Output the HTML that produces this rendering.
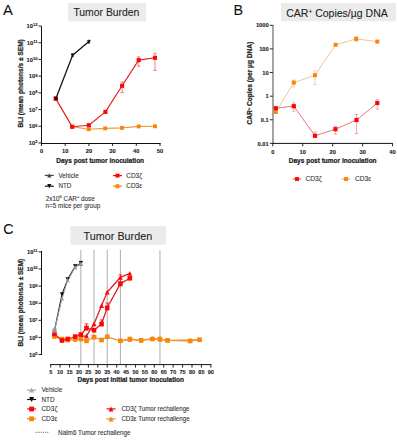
<!DOCTYPE html>
<html><head><meta charset="utf-8"><style>
html,body{margin:0;padding:0;background:#fff;width:397px;height:440px;overflow:hidden}
svg{display:block;font-family:"Liberation Sans", sans-serif}
text{stroke:#222;stroke-width:0.08px}
text[font-weight="700"]{stroke-width:0.22px}
text.tk{stroke-width:0.1px}
</style></head><body>
<svg width="397" height="440" viewBox="0 0 397 440">
<rect width="397" height="440" fill="#fff"/>
<text x="3.1" y="14.7" font-size="14.8" font-weight="400" text-anchor="start" fill="#111" >A</text>
<rect x="68" y="3" width="78" height="18.5" fill="#ebebeb"/>
<text x="106.4" y="16.4" font-size="10.4" font-weight="400" text-anchor="middle" fill="#222" >Tumor Burden</text>
<line x1="41.5" y1="26" x2="41.5" y2="143.5" stroke="#111" stroke-width="1"/>
<line x1="38.5" y1="143.0" x2="41.5" y2="143.0" stroke="#111" stroke-width="0.9"/>
<text x="37.5" y="145.1" font-size="5.8" font-weight="700" text-anchor="end" fill="#222" class="tk">10<tspan dy="-1.7" font-size="4.1">5</tspan></text>
<line x1="38.5" y1="126.28999999999999" x2="41.5" y2="126.28999999999999" stroke="#111" stroke-width="0.9"/>
<text x="37.5" y="128.39" font-size="5.8" font-weight="700" text-anchor="end" fill="#222" class="tk">10<tspan dy="-1.7" font-size="4.1">6</tspan></text>
<line x1="38.5" y1="109.58" x2="41.5" y2="109.58" stroke="#111" stroke-width="0.9"/>
<text x="37.5" y="111.67999999999999" font-size="5.8" font-weight="700" text-anchor="end" fill="#222" class="tk">10<tspan dy="-1.7" font-size="4.1">7</tspan></text>
<line x1="38.5" y1="92.87" x2="41.5" y2="92.87" stroke="#111" stroke-width="0.9"/>
<text x="37.5" y="94.97" font-size="5.8" font-weight="700" text-anchor="end" fill="#222" class="tk">10<tspan dy="-1.7" font-size="4.1">8</tspan></text>
<line x1="38.5" y1="76.16" x2="41.5" y2="76.16" stroke="#111" stroke-width="0.9"/>
<text x="37.5" y="78.25999999999999" font-size="5.8" font-weight="700" text-anchor="end" fill="#222" class="tk">10<tspan dy="-1.7" font-size="4.1">9</tspan></text>
<line x1="38.5" y1="59.44999999999999" x2="41.5" y2="59.44999999999999" stroke="#111" stroke-width="0.9"/>
<text x="37.5" y="61.54999999999999" font-size="5.8" font-weight="700" text-anchor="end" fill="#222" class="tk">10<tspan dy="-1.7" font-size="4.1">10</tspan></text>
<line x1="38.5" y1="42.739999999999995" x2="41.5" y2="42.739999999999995" stroke="#111" stroke-width="0.9"/>
<text x="37.5" y="44.839999999999996" font-size="5.8" font-weight="700" text-anchor="end" fill="#222" class="tk">10<tspan dy="-1.7" font-size="4.1">11</tspan></text>
<line x1="38.5" y1="26.03" x2="41.5" y2="26.03" stroke="#111" stroke-width="0.9"/>
<text x="37.5" y="28.130000000000003" font-size="5.8" font-weight="700" text-anchor="end" fill="#222" class="tk">10<tspan dy="-1.7" font-size="4.1">12</tspan></text>
<line x1="41.0" y1="143.5" x2="160.5" y2="143.5" stroke="#111" stroke-width="1"/>
<line x1="41.5" y1="143" x2="41.5" y2="146" stroke="#111" stroke-width="0.9"/>
<text x="41.5" y="153.2" font-size="5.8" font-weight="700" text-anchor="middle" fill="#222" class="tk">0</text>
<line x1="65.2" y1="143" x2="65.2" y2="146" stroke="#111" stroke-width="0.9"/>
<text x="65.2" y="153.2" font-size="5.8" font-weight="700" text-anchor="middle" fill="#222" class="tk">10</text>
<line x1="88.9" y1="143" x2="88.9" y2="146" stroke="#111" stroke-width="0.9"/>
<text x="88.9" y="153.2" font-size="5.8" font-weight="700" text-anchor="middle" fill="#222" class="tk">20</text>
<line x1="112.60000000000001" y1="143" x2="112.60000000000001" y2="146" stroke="#111" stroke-width="0.9"/>
<text x="112.60000000000001" y="153.2" font-size="5.8" font-weight="700" text-anchor="middle" fill="#222" class="tk">30</text>
<line x1="136.3" y1="143" x2="136.3" y2="146" stroke="#111" stroke-width="0.9"/>
<text x="136.3" y="153.2" font-size="5.8" font-weight="700" text-anchor="middle" fill="#222" class="tk">40</text>
<line x1="160.0" y1="143" x2="160.0" y2="146" stroke="#111" stroke-width="0.9"/>
<text x="160.0" y="153.2" font-size="5.8" font-weight="700" text-anchor="middle" fill="#222" class="tk">50</text>
<text x="100.2" y="163.0" font-size="6.5" font-weight="700" text-anchor="middle" fill="#222" >Days post tumor inoculation</text>
<text transform="translate(22.5 83.4) rotate(-90)" font-size="6.55" font-weight="700" text-anchor="middle" fill="#222">BLI (mean photons/s ± SEM)</text>
<polyline points="55.80,98.70 72.20,126.80 88.80,129.20 105.20,128.40 122.00,127.90 138.70,126.40 155.00,126.30" fill="none" stroke="#eb9a3c" stroke-width="1.1" stroke-linejoin="round"/>
<polyline points="55.80,98.70 72.20,126.80 88.80,125.20 105.40,111.90 122.10,85.80 138.70,60.10 155.00,57.80" fill="none" stroke="#e41e1e" stroke-width="1.15" stroke-linejoin="round"/>
<polyline points="55.80,98.70 72.60,55.20 88.90,41.60" fill="none" stroke="#111" stroke-width="1.25" stroke-linejoin="round"/>
<path d="M122.10 82.00V92.60M120.40 82.00H123.80M120.40 92.60H123.80" stroke="#e86464" stroke-width="0.8" fill="none"/>
<path d="M138.70 56.80V66.20M137.00 56.80H140.40M137.00 66.20H140.40" stroke="#e86464" stroke-width="0.8" fill="none"/>
<path d="M155.00 53.30V70.40M153.30 53.30H156.70M153.30 70.40H156.70" stroke="#e86464" stroke-width="0.8" fill="none"/>
<rect x="70.25" y="124.85" width="3.9" height="3.9" fill="#f8860a"/>
<rect x="86.85" y="127.25" width="3.9" height="3.9" fill="#f8860a"/>
<rect x="103.25" y="126.45" width="3.9" height="3.9" fill="#f8860a"/>
<rect x="120.05" y="125.95" width="3.9" height="3.9" fill="#f8860a"/>
<rect x="136.75" y="124.45" width="3.9" height="3.9" fill="#f8860a"/>
<rect x="153.05" y="124.35" width="3.9" height="3.9" fill="#f8860a"/>
<rect x="70.15" y="124.75" width="4.1" height="4.1" fill="#fa0808"/>
<rect x="86.75" y="123.15" width="4.1" height="4.1" fill="#fa0808"/>
<rect x="103.35" y="109.85" width="4.1" height="4.1" fill="#fa0808"/>
<rect x="120.05" y="83.75" width="4.1" height="4.1" fill="#fa0808"/>
<rect x="136.65" y="58.05" width="4.1" height="4.1" fill="#fa0808"/>
<rect x="152.95" y="55.75" width="4.1" height="4.1" fill="#fa0808"/>
<rect x="53.60" y="96.50" width="4.4" height="4.4" fill="#fa0808"/>
<rect x="54.3" y="96.6" width="3.0" height="3.2" fill="#111"/>
<path d="M72.60 53.60V56.60M71.40 53.60H73.80M71.40 56.60H73.80" stroke="#111" stroke-width="0.6" fill="none"/>
<path d="M88.90 40.10V43.10M87.70 40.10H90.10M87.70 43.10H90.10" stroke="#111" stroke-width="0.6" fill="none"/>
<path d="M70.70 53.70H74.50L72.60 57.50Z" fill="#111"/>
<path d="M87.00 40.20H90.80L88.90 44.00Z" fill="#111"/>
<line x1="44.8" y1="175.4" x2="53.8" y2="175.4" stroke="#444" stroke-width="1.2"/>
<path d="M47.20 177.50H51.40L49.30 173.30Z" fill="#444"/>
<text transform="translate(58.4 177.6) scale(1 1.1)" font-size="6.3" font-weight="400" text-anchor="start" fill="#333333" >Vehicle</text>
<line x1="44.8" y1="186.2" x2="53.8" y2="186.2" stroke="#111" stroke-width="1.2"/>
<path d="M47.20 184.10H51.40L49.30 188.30Z" fill="#111"/>
<text transform="translate(58.4 188.3) scale(1 1.1)" font-size="6.3" font-weight="400" text-anchor="start" fill="#333333" >NTD</text>
<text transform="translate(45.8 200.6) scale(1 1.1)" font-size="6.3" fill="#333333" textLength="49" lengthAdjust="spacingAndGlyphs">2x10<tspan dy="-2.2" font-size="4">6</tspan><tspan dy="2.2"> CAR</tspan><tspan dy="-2.2" font-size="4">+</tspan><tspan dy="2.2"> dose</tspan></text>
<text transform="translate(45.6 207.6) scale(1 1.1)" font-size="6.35" font-weight="400" text-anchor="start" fill="#333333" >n=5 mice per group</text>
<line x1="113.0" y1="175.6" x2="122.0" y2="175.6" stroke="#fa0808" stroke-width="1.2"/>
<rect x="115.55" y="173.65" width="3.9" height="3.9" fill="#fa0808"/>
<text transform="translate(126.2 177.7) scale(1 1.1)" font-size="6.5" font-weight="400" text-anchor="start" fill="#333333" >CD3ζ</text>
<line x1="113.0" y1="186.2" x2="122.0" y2="186.2" stroke="#f8860a" stroke-width="1.2"/>
<rect x="115.55" y="184.25" width="3.9" height="3.9" fill="#f8860a"/>
<text transform="translate(126.2 188.3) scale(1 1.1)" font-size="6.5" font-weight="400" text-anchor="start" fill="#333333" >CD3ε</text>
<text x="233.5" y="15.0" font-size="14.3" font-weight="400" text-anchor="start" fill="#111" >B</text>
<rect x="281" y="3" width="115" height="18.3" fill="#ebebeb"/>
<text x="337" y="16.7" font-size="10.5" text-anchor="middle" fill="#222">CAR<tspan dy="-3.2" font-size="6.5">+</tspan><tspan dy="3.2"> Copies/µg DNA</tspan></text>
<line x1="273.0" y1="25" x2="273.0" y2="143.9" stroke="#5a5a5a" stroke-width="1.1"/>
<line x1="269.8" y1="143.4" x2="272.8" y2="143.4" stroke="#111" stroke-width="0.9"/>
<text x="268.8" y="145.5" font-size="5.8" font-weight="700" text-anchor="end" fill="#222" class="tk">0.01</text>
<line x1="269.8" y1="119.78" x2="272.8" y2="119.78" stroke="#111" stroke-width="0.9"/>
<text x="268.8" y="121.88" font-size="5.8" font-weight="700" text-anchor="end" fill="#222" class="tk">0.1</text>
<line x1="269.8" y1="96.16" x2="272.8" y2="96.16" stroke="#111" stroke-width="0.9"/>
<text x="268.8" y="98.25999999999999" font-size="5.8" font-weight="700" text-anchor="end" fill="#222" class="tk">1</text>
<line x1="269.8" y1="72.54" x2="272.8" y2="72.54" stroke="#111" stroke-width="0.9"/>
<text x="268.8" y="74.64" font-size="5.8" font-weight="700" text-anchor="end" fill="#222" class="tk">10</text>
<line x1="269.8" y1="48.92" x2="272.8" y2="48.92" stroke="#111" stroke-width="0.9"/>
<text x="268.8" y="51.02" font-size="5.8" font-weight="700" text-anchor="end" fill="#222" class="tk">100</text>
<line x1="269.8" y1="25.299999999999997" x2="272.8" y2="25.299999999999997" stroke="#111" stroke-width="0.9"/>
<text x="268.8" y="27.4" font-size="5.8" font-weight="700" text-anchor="end" fill="#222" class="tk">1000</text>
<line x1="272.3" y1="143.4" x2="392.8" y2="143.4" stroke="#111" stroke-width="1"/>
<line x1="272.8" y1="143.4" x2="272.8" y2="146.4" stroke="#111" stroke-width="0.9"/>
<text x="272.8" y="153.8" font-size="5.8" font-weight="700" text-anchor="middle" fill="#222" class="tk">0</text>
<line x1="302.75" y1="143.4" x2="302.75" y2="146.4" stroke="#111" stroke-width="0.9"/>
<text x="302.75" y="153.8" font-size="5.8" font-weight="700" text-anchor="middle" fill="#222" class="tk">10</text>
<line x1="332.70000000000005" y1="143.4" x2="332.70000000000005" y2="146.4" stroke="#111" stroke-width="0.9"/>
<text x="332.70000000000005" y="153.8" font-size="5.8" font-weight="700" text-anchor="middle" fill="#222" class="tk">20</text>
<line x1="362.65000000000003" y1="143.4" x2="362.65000000000003" y2="146.4" stroke="#111" stroke-width="0.9"/>
<text x="362.65000000000003" y="153.8" font-size="5.8" font-weight="700" text-anchor="middle" fill="#222" class="tk">30</text>
<line x1="392.6" y1="143.4" x2="392.6" y2="146.4" stroke="#111" stroke-width="0.9"/>
<text x="392.6" y="153.8" font-size="5.8" font-weight="700" text-anchor="middle" fill="#222" class="tk">40</text>
<text x="332.7" y="162.9" font-size="6.5" font-weight="700" text-anchor="middle" fill="#222" >Days post tumor inoculation</text>
<text transform="translate(252.4 83.2) rotate(-90)" font-size="6.6" font-weight="700" text-anchor="middle" fill="#222">CAR<tspan dy="-2" font-size="4.2">+</tspan><tspan dy="2"> Copies (per µg DNA)</tspan></text>
<polyline points="275.80,112.00 293.80,82.60 315.00,75.20 335.60,44.80 356.20,38.90 377.30,41.60" fill="none" stroke="#f5b56a" stroke-width="0.8" stroke-linejoin="round"/>
<polyline points="275.80,108.20 293.80,106.20 315.00,135.80 335.40,129.20 356.50,120.00 377.30,103.00" fill="none" stroke="#e85050" stroke-width="0.8" stroke-linejoin="round"/>
<path d="M293.80 80.00V87.00M292.20 80.00H295.40M292.20 87.00H295.40" stroke="#f5b56a" stroke-width="0.6" fill="none"/>
<path d="M315.00 70.60V84.70M313.40 70.60H316.60M313.40 84.70H316.60" stroke="#f5b56a" stroke-width="0.6" fill="none"/>
<path d="M356.20 36.50V41.50M354.60 36.50H357.80M354.60 41.50H357.80" stroke="#f5b56a" stroke-width="0.6" fill="none"/>
<path d="M293.80 102.90V111.20M292.20 102.90H295.40M292.20 111.20H295.40" stroke="#ef7070" stroke-width="0.6" fill="none"/>
<path d="M315.00 132.00V136.50M313.40 132.00H316.60M313.40 136.50H316.60" stroke="#ef7070" stroke-width="0.6" fill="none"/>
<path d="M335.40 126.30V134.20M333.80 126.30H337.00M333.80 134.20H337.00" stroke="#ef7070" stroke-width="0.6" fill="none"/>
<path d="M356.50 114.50V133.50M354.90 114.50H358.10M354.90 133.50H358.10" stroke="#ef7070" stroke-width="0.6" fill="none"/>
<path d="M377.30 99.60V109.10M375.70 99.60H378.90M375.70 109.10H378.90" stroke="#ef7070" stroke-width="0.6" fill="none"/>
<rect x="273.80" y="110.00" width="4.0" height="4.0" fill="#f8860a"/>
<rect x="291.80" y="80.60" width="4.0" height="4.0" fill="#f8860a"/>
<rect x="313.00" y="73.20" width="4.0" height="4.0" fill="#f8860a"/>
<rect x="333.60" y="42.80" width="4.0" height="4.0" fill="#f8860a"/>
<rect x="354.20" y="36.90" width="4.0" height="4.0" fill="#f8860a"/>
<rect x="375.30" y="39.60" width="4.0" height="4.0" fill="#f8860a"/>
<rect x="273.70" y="106.10" width="4.2" height="4.2" fill="#fa0808"/>
<rect x="291.70" y="104.10" width="4.2" height="4.2" fill="#fa0808"/>
<rect x="312.90" y="133.70" width="4.2" height="4.2" fill="#fa0808"/>
<rect x="333.30" y="127.10" width="4.2" height="4.2" fill="#fa0808"/>
<rect x="354.40" y="117.90" width="4.2" height="4.2" fill="#fa0808"/>
<rect x="375.20" y="100.90" width="4.2" height="4.2" fill="#fa0808"/>
<line x1="292.75" y1="179" x2="301.25" y2="179" stroke="#fa0808" stroke-width="0.8"/>
<rect x="295.05" y="177.05" width="3.9" height="3.9" fill="#fa0808"/>
<text transform="translate(305.5 181.3) scale(1 1.1)" font-size="6.6" font-weight="400" text-anchor="start" fill="#333333" >CD3ζ</text>
<line x1="341.75" y1="179" x2="350.25" y2="179" stroke="#f8860a" stroke-width="0.8"/>
<rect x="344.05" y="177.05" width="3.9" height="3.9" fill="#f8860a"/>
<text transform="translate(355 181.3) scale(1 1.1)" font-size="6.6" font-weight="400" text-anchor="start" fill="#333333" >CD3ε</text>
<text x="3.3" y="233.9" font-size="14.3" font-weight="400" text-anchor="start" fill="#111" >C</text>
<rect x="70.5" y="226" width="95.5" height="18.8" fill="#ebebeb"/>
<text x="117.9" y="239.9" font-size="10.8" font-weight="400" text-anchor="middle" fill="#222" >Tumor Burden</text>
<line x1="80.84" y1="250" x2="80.84" y2="364.6" stroke="#a4a4a4" stroke-width="0.9"/>
<line x1="94.03" y1="250" x2="94.03" y2="364.6" stroke="#a4a4a4" stroke-width="0.9"/>
<line x1="107.22" y1="250" x2="107.22" y2="364.6" stroke="#a4a4a4" stroke-width="0.9"/>
<line x1="120.41" y1="250" x2="120.41" y2="364.6" stroke="#a4a4a4" stroke-width="0.9"/>
<line x1="159.97" y1="250" x2="159.97" y2="364.6" stroke="#a4a4a4" stroke-width="0.9"/>
<line x1="41.5" y1="251" x2="41.5" y2="355.0" stroke="#111" stroke-width="1"/>
<line x1="38.5" y1="354.5" x2="41.5" y2="354.5" stroke="#111" stroke-width="0.9"/>
<text x="37.6" y="356.6" font-size="5.8" font-weight="700" text-anchor="end" fill="#222" class="tk">10<tspan dy="-1.7" font-size="4.0">5</tspan></text>
<line x1="38.5" y1="337.4" x2="41.5" y2="337.4" stroke="#111" stroke-width="0.9"/>
<text x="37.6" y="339.5" font-size="5.8" font-weight="700" text-anchor="end" fill="#222" class="tk">10<tspan dy="-1.7" font-size="4.0">6</tspan></text>
<line x1="38.5" y1="320.3" x2="41.5" y2="320.3" stroke="#111" stroke-width="0.9"/>
<text x="37.6" y="322.40000000000003" font-size="5.8" font-weight="700" text-anchor="end" fill="#222" class="tk">10<tspan dy="-1.7" font-size="4.0">7</tspan></text>
<line x1="38.5" y1="303.2" x2="41.5" y2="303.2" stroke="#111" stroke-width="0.9"/>
<text x="37.6" y="305.3" font-size="5.8" font-weight="700" text-anchor="end" fill="#222" class="tk">10<tspan dy="-1.7" font-size="4.0">8</tspan></text>
<line x1="38.5" y1="286.1" x2="41.5" y2="286.1" stroke="#111" stroke-width="0.9"/>
<text x="37.6" y="288.20000000000005" font-size="5.8" font-weight="700" text-anchor="end" fill="#222" class="tk">10<tspan dy="-1.7" font-size="4.0">9</tspan></text>
<line x1="38.5" y1="269.0" x2="41.5" y2="269.0" stroke="#111" stroke-width="0.9"/>
<text x="37.6" y="271.1" font-size="5.8" font-weight="700" text-anchor="end" fill="#222" class="tk">10<tspan dy="-1.7" font-size="4.0">10</tspan></text>
<line x1="38.5" y1="251.89999999999998" x2="41.5" y2="251.89999999999998" stroke="#111" stroke-width="0.9"/>
<text x="37.6" y="253.99999999999997" font-size="5.8" font-weight="700" text-anchor="end" fill="#222" class="tk">10<tspan dy="-1.7" font-size="4.0">11</tspan></text>
<line x1="50.2" y1="364.6" x2="211.33999999999997" y2="364.6" stroke="#111" stroke-width="1"/>
<line x1="50.7" y1="364.6" x2="50.7" y2="367.6" stroke="#111" stroke-width="0.9"/>
<text x="50.7" y="374.40000000000003" font-size="5.5" font-weight="700" text-anchor="middle" fill="#222" class="tk">5</text>
<line x1="60.120000000000005" y1="364.6" x2="60.120000000000005" y2="367.6" stroke="#111" stroke-width="0.9"/>
<text x="60.120000000000005" y="374.40000000000003" font-size="5.5" font-weight="700" text-anchor="middle" fill="#222" class="tk">10</text>
<line x1="69.54" y1="364.6" x2="69.54" y2="367.6" stroke="#111" stroke-width="0.9"/>
<text x="69.54" y="374.40000000000003" font-size="5.5" font-weight="700" text-anchor="middle" fill="#222" class="tk">15</text>
<line x1="78.96000000000001" y1="364.6" x2="78.96000000000001" y2="367.6" stroke="#111" stroke-width="0.9"/>
<text x="78.96000000000001" y="374.40000000000003" font-size="5.5" font-weight="700" text-anchor="middle" fill="#222" class="tk">20</text>
<line x1="88.38" y1="364.6" x2="88.38" y2="367.6" stroke="#111" stroke-width="0.9"/>
<text x="88.38" y="374.40000000000003" font-size="5.5" font-weight="700" text-anchor="middle" fill="#222" class="tk">25</text>
<line x1="97.8" y1="364.6" x2="97.8" y2="367.6" stroke="#111" stroke-width="0.9"/>
<text x="97.8" y="374.40000000000003" font-size="5.5" font-weight="700" text-anchor="middle" fill="#222" class="tk">30</text>
<line x1="107.22" y1="364.6" x2="107.22" y2="367.6" stroke="#111" stroke-width="0.9"/>
<text x="107.22" y="374.40000000000003" font-size="5.5" font-weight="700" text-anchor="middle" fill="#222" class="tk">35</text>
<line x1="116.64" y1="364.6" x2="116.64" y2="367.6" stroke="#111" stroke-width="0.9"/>
<text x="116.64" y="374.40000000000003" font-size="5.5" font-weight="700" text-anchor="middle" fill="#222" class="tk">40</text>
<line x1="126.06" y1="364.6" x2="126.06" y2="367.6" stroke="#111" stroke-width="0.9"/>
<text x="126.06" y="374.40000000000003" font-size="5.5" font-weight="700" text-anchor="middle" fill="#222" class="tk">45</text>
<line x1="135.48000000000002" y1="364.6" x2="135.48000000000002" y2="367.6" stroke="#111" stroke-width="0.9"/>
<text x="135.48000000000002" y="374.40000000000003" font-size="5.5" font-weight="700" text-anchor="middle" fill="#222" class="tk">50</text>
<line x1="144.89999999999998" y1="364.6" x2="144.89999999999998" y2="367.6" stroke="#111" stroke-width="0.9"/>
<text x="144.89999999999998" y="374.40000000000003" font-size="5.5" font-weight="700" text-anchor="middle" fill="#222" class="tk">55</text>
<line x1="154.32" y1="364.6" x2="154.32" y2="367.6" stroke="#111" stroke-width="0.9"/>
<text x="154.32" y="374.40000000000003" font-size="5.5" font-weight="700" text-anchor="middle" fill="#222" class="tk">60</text>
<line x1="163.74" y1="364.6" x2="163.74" y2="367.6" stroke="#111" stroke-width="0.9"/>
<text x="163.74" y="374.40000000000003" font-size="5.5" font-weight="700" text-anchor="middle" fill="#222" class="tk">65</text>
<line x1="173.16" y1="364.6" x2="173.16" y2="367.6" stroke="#111" stroke-width="0.9"/>
<text x="173.16" y="374.40000000000003" font-size="5.5" font-weight="700" text-anchor="middle" fill="#222" class="tk">70</text>
<line x1="182.57999999999998" y1="364.6" x2="182.57999999999998" y2="367.6" stroke="#111" stroke-width="0.9"/>
<text x="182.57999999999998" y="374.40000000000003" font-size="5.5" font-weight="700" text-anchor="middle" fill="#222" class="tk">75</text>
<line x1="192.0" y1="364.6" x2="192.0" y2="367.6" stroke="#111" stroke-width="0.9"/>
<text x="192.0" y="374.40000000000003" font-size="5.5" font-weight="700" text-anchor="middle" fill="#222" class="tk">80</text>
<line x1="201.42000000000002" y1="364.6" x2="201.42000000000002" y2="367.6" stroke="#111" stroke-width="0.9"/>
<text x="201.42000000000002" y="374.40000000000003" font-size="5.5" font-weight="700" text-anchor="middle" fill="#222" class="tk">85</text>
<line x1="210.83999999999997" y1="364.6" x2="210.83999999999997" y2="367.6" stroke="#111" stroke-width="0.9"/>
<text x="210.83999999999997" y="374.40000000000003" font-size="5.5" font-weight="700" text-anchor="middle" fill="#222" class="tk">90</text>
<text x="130.8" y="382.4" font-size="6.5" font-weight="700" text-anchor="middle" fill="#222" >Days post initial tumor inoculation</text>
<text transform="translate(22.8 302.6) rotate(-90)" font-size="6.5" font-weight="700" text-anchor="middle" fill="#222">BLI (mean photons/s ± SEM)</text>
<polyline points="54.47,336.60 62.00,339.00 67.66,340.00 75.19,339.50 80.84,339.10 86.50,340.90 94.03,337.20 101.57,340.00 107.22,336.80 120.41,340.80 129.83,339.00 141.13,340.30 152.44,339.00 159.97,339.00 167.51,340.30 190.12,341.00 199.54,339.70" fill="none" stroke="#eb9a3c" stroke-width="1.3" stroke-linejoin="round"/>
<polyline points="120.41,340.80 129.83,339.50 141.13,340.30 152.44,338.50 159.97,339.50 167.51,340.30 190.12,340.00 199.54,339.70" fill="none" stroke="#eb9a3c" stroke-width="1.3" stroke-linejoin="round"/>
<polyline points="54.47,334.00 62.00,340.50 67.66,339.00 75.19,336.60 80.84,334.60 86.50,328.00 94.03,330.20 101.57,323.90 107.22,307.80 120.41,283.60 129.83,278.30" fill="none" stroke="#e41e1e" stroke-width="1.3" stroke-linejoin="round"/>
<polyline points="80.84,336.50 86.50,335.80 94.03,323.90 101.57,305.50 107.22,292.20 120.41,277.30 129.83,273.40" fill="none" stroke="#e41e1e" stroke-width="1.3" stroke-linejoin="round"/>
<polyline points="54.47,330.60 62.00,294.40 67.66,279.40 75.19,266.40 80.84,263.20" fill="none" stroke="#111" stroke-width="1.1" stroke-linejoin="round"/>
<polyline points="54.47,330.60 62.00,298.30 67.66,280.20 75.19,267.20 80.84,263.60" fill="none" stroke="#9a9a9a" stroke-width="1.1" stroke-linejoin="round"/>
<rect x="52.17" y="334.30" width="4.6" height="4.6" fill="#f8860a"/>
<rect x="59.70" y="336.70" width="4.6" height="4.6" fill="#f8860a"/>
<rect x="65.36" y="337.70" width="4.6" height="4.6" fill="#f8860a"/>
<rect x="72.89" y="337.20" width="4.6" height="4.6" fill="#f8860a"/>
<rect x="78.54" y="336.80" width="4.6" height="4.6" fill="#f8860a"/>
<rect x="84.20" y="338.60" width="4.6" height="4.6" fill="#f8860a"/>
<rect x="91.73" y="334.90" width="4.6" height="4.6" fill="#f8860a"/>
<rect x="99.27" y="337.70" width="4.6" height="4.6" fill="#f8860a"/>
<rect x="104.92" y="334.50" width="4.6" height="4.6" fill="#f8860a"/>
<rect x="118.11" y="338.50" width="4.6" height="4.6" fill="#f8860a"/>
<rect x="127.53" y="336.70" width="4.6" height="4.6" fill="#f8860a"/>
<rect x="138.83" y="338.00" width="4.6" height="4.6" fill="#f8860a"/>
<rect x="150.14" y="336.70" width="4.6" height="4.6" fill="#f8860a"/>
<rect x="157.67" y="336.70" width="4.6" height="4.6" fill="#f8860a"/>
<rect x="165.21" y="338.00" width="4.6" height="4.6" fill="#f8860a"/>
<rect x="187.82" y="338.70" width="4.6" height="4.6" fill="#f8860a"/>
<rect x="197.24" y="337.40" width="4.6" height="4.6" fill="#f8860a"/>
<path d="M118.11 343.10H122.71L120.41 338.50Z" fill="#f8860a"/>
<path d="M127.53 341.80H132.13L129.83 337.20Z" fill="#f8860a"/>
<path d="M138.83 342.60H143.43L141.13 338.00Z" fill="#f8860a"/>
<path d="M150.14 340.80H154.74L152.44 336.20Z" fill="#f8860a"/>
<path d="M157.67 341.80H162.27L159.97 337.20Z" fill="#f8860a"/>
<path d="M165.21 342.60H169.81L167.51 338.00Z" fill="#f8860a"/>
<path d="M187.82 342.30H192.42L190.12 337.70Z" fill="#f8860a"/>
<path d="M197.24 342.00H201.84L199.54 337.40Z" fill="#f8860a"/>
<path d="M86.50 323.90V330.00M84.70 323.90H88.30M84.70 330.00H88.30" stroke="#fa0808" stroke-width="0.8" fill="none"/>
<path d="M101.57 319.90V326.00M99.77 319.90H103.37M99.77 326.00H103.37" stroke="#fa0808" stroke-width="0.8" fill="none"/>
<path d="M107.22 303.00V310.00M105.42 303.00H109.02M105.42 310.00H109.02" stroke="#fa0808" stroke-width="0.8" fill="none"/>
<path d="M120.41 274.80V286.00M118.61 274.80H122.21M118.61 286.00H122.21" stroke="#fa0808" stroke-width="0.8" fill="none"/>
<rect x="52.17" y="331.70" width="4.6" height="4.6" fill="#fa0808"/>
<rect x="59.70" y="338.20" width="4.6" height="4.6" fill="#fa0808"/>
<rect x="65.36" y="336.70" width="4.6" height="4.6" fill="#fa0808"/>
<rect x="72.89" y="334.30" width="4.6" height="4.6" fill="#fa0808"/>
<rect x="78.54" y="332.30" width="4.6" height="4.6" fill="#fa0808"/>
<rect x="84.20" y="325.70" width="4.6" height="4.6" fill="#fa0808"/>
<rect x="91.73" y="327.90" width="4.6" height="4.6" fill="#fa0808"/>
<rect x="99.27" y="321.60" width="4.6" height="4.6" fill="#fa0808"/>
<rect x="104.92" y="305.50" width="4.6" height="4.6" fill="#fa0808"/>
<rect x="118.11" y="281.30" width="4.6" height="4.6" fill="#fa0808"/>
<rect x="127.53" y="276.00" width="4.6" height="4.6" fill="#fa0808"/>
<path d="M84.10 338.20H88.90L86.50 333.40Z" fill="#fa0808"/>
<path d="M91.63 326.30H96.43L94.03 321.50Z" fill="#fa0808"/>
<path d="M99.17 307.90H103.97L101.57 303.10Z" fill="#fa0808"/>
<path d="M104.82 294.60H109.62L107.22 289.80Z" fill="#fa0808"/>
<path d="M118.01 279.70H122.81L120.41 274.90Z" fill="#fa0808"/>
<path d="M127.43 275.80H132.23L129.83 271.00Z" fill="#fa0808"/>
<path d="M80.84 261.40V265.20M79.04 261.40H82.64M79.04 265.20H82.64" stroke="#111" stroke-width="0.8" fill="none"/>
<path d="M75.19 265.00V268.50M73.59 265.00H76.79M73.59 268.50H76.79" stroke="#333" stroke-width="0.7" fill="none"/>
<path d="M59.90 292.30H64.10L62.00 296.50Z" fill="#111"/>
<path d="M65.56 277.30H69.76L67.66 281.50Z" fill="#111"/>
<path d="M73.09 264.30H77.29L75.19 268.50Z" fill="#111"/>
<path d="M78.74 261.10H82.94L80.84 265.30Z" fill="#111"/>
<path d="M59.90 300.40H64.10L62.00 296.20Z" fill="#9a9a9a"/>
<path d="M65.56 282.30H69.76L67.66 278.10Z" fill="#9a9a9a"/>
<path d="M73.09 269.30H77.29L75.19 265.10Z" fill="#9a9a9a"/>
<path d="M78.74 265.70H82.94L80.84 261.50Z" fill="#9a9a9a"/>
<rect x="52.37" y="328.50" width="4.2" height="4.2" fill="#9a9a9a"/>
<line x1="27.1" y1="390.1" x2="36.1" y2="390.1" stroke="#a8a8a8" stroke-width="1.2"/>
<path d="M29.10 392.60H34.10L31.60 387.60Z" fill="#a8a8a8"/>
<text transform="translate(41.4 392.3) scale(1 1.1)" font-size="6.5" font-weight="400" text-anchor="start" fill="#333333" >Vehicle</text>
<line x1="27.1" y1="399.5" x2="36.1" y2="399.5" stroke="#111" stroke-width="1.2"/>
<path d="M29.10 397.00H34.10L31.60 402.00Z" fill="#111"/>
<text transform="translate(41.4 401.7) scale(1 1.1)" font-size="6.5" font-weight="400" text-anchor="start" fill="#333333" >NTD</text>
<line x1="27.1" y1="409" x2="36.1" y2="409" stroke="#fa0808" stroke-width="1.2"/>
<rect x="29.20" y="406.60" width="4.8" height="4.8" fill="#fa0808"/>
<text transform="translate(41.4 411.2) scale(1 1.1)" font-size="6.5" font-weight="400" text-anchor="start" fill="#333333" >CD3ζ</text>
<line x1="27.1" y1="418.8" x2="36.1" y2="418.8" stroke="#f8860a" stroke-width="1.2"/>
<rect x="29.20" y="416.40" width="4.8" height="4.8" fill="#f8860a"/>
<text transform="translate(41.4 421.0) scale(1 1.1)" font-size="6.5" font-weight="400" text-anchor="start" fill="#333333" >CD3ε</text>
<line x1="106.5" y1="408.9" x2="115.5" y2="408.9" stroke="#fa0808" stroke-width="1.2"/>
<path d="M108.50 411.40H113.50L111.00 406.40Z" fill="#fa0808"/>
<text transform="translate(121.4 410.9) scale(1 1.1)" font-size="6.2" font-weight="400" text-anchor="start" fill="#333333" >CD3ζ Tumor rechallenge</text>
<line x1="106.5" y1="418.9" x2="115.5" y2="418.9" stroke="#f8860a" stroke-width="1.2"/>
<path d="M108.50 421.40H113.50L111.00 416.40Z" fill="#f8860a"/>
<text transform="translate(121.4 420.9) scale(1 1.1)" font-size="6.2" font-weight="400" text-anchor="start" fill="#333333" >CD3ε Tumor rechallenge</text>
<line x1="35.4" y1="432.3" x2="49" y2="432.3" stroke="#444" stroke-width="0.8" stroke-dasharray="1 0.9"/>
<text transform="translate(58.1 434.5) scale(1 1.1)" font-size="6.35" font-weight="400" text-anchor="start" fill="#333333" >Nalm6 Tumor rechallenge</text>
</svg>
</body></html>
